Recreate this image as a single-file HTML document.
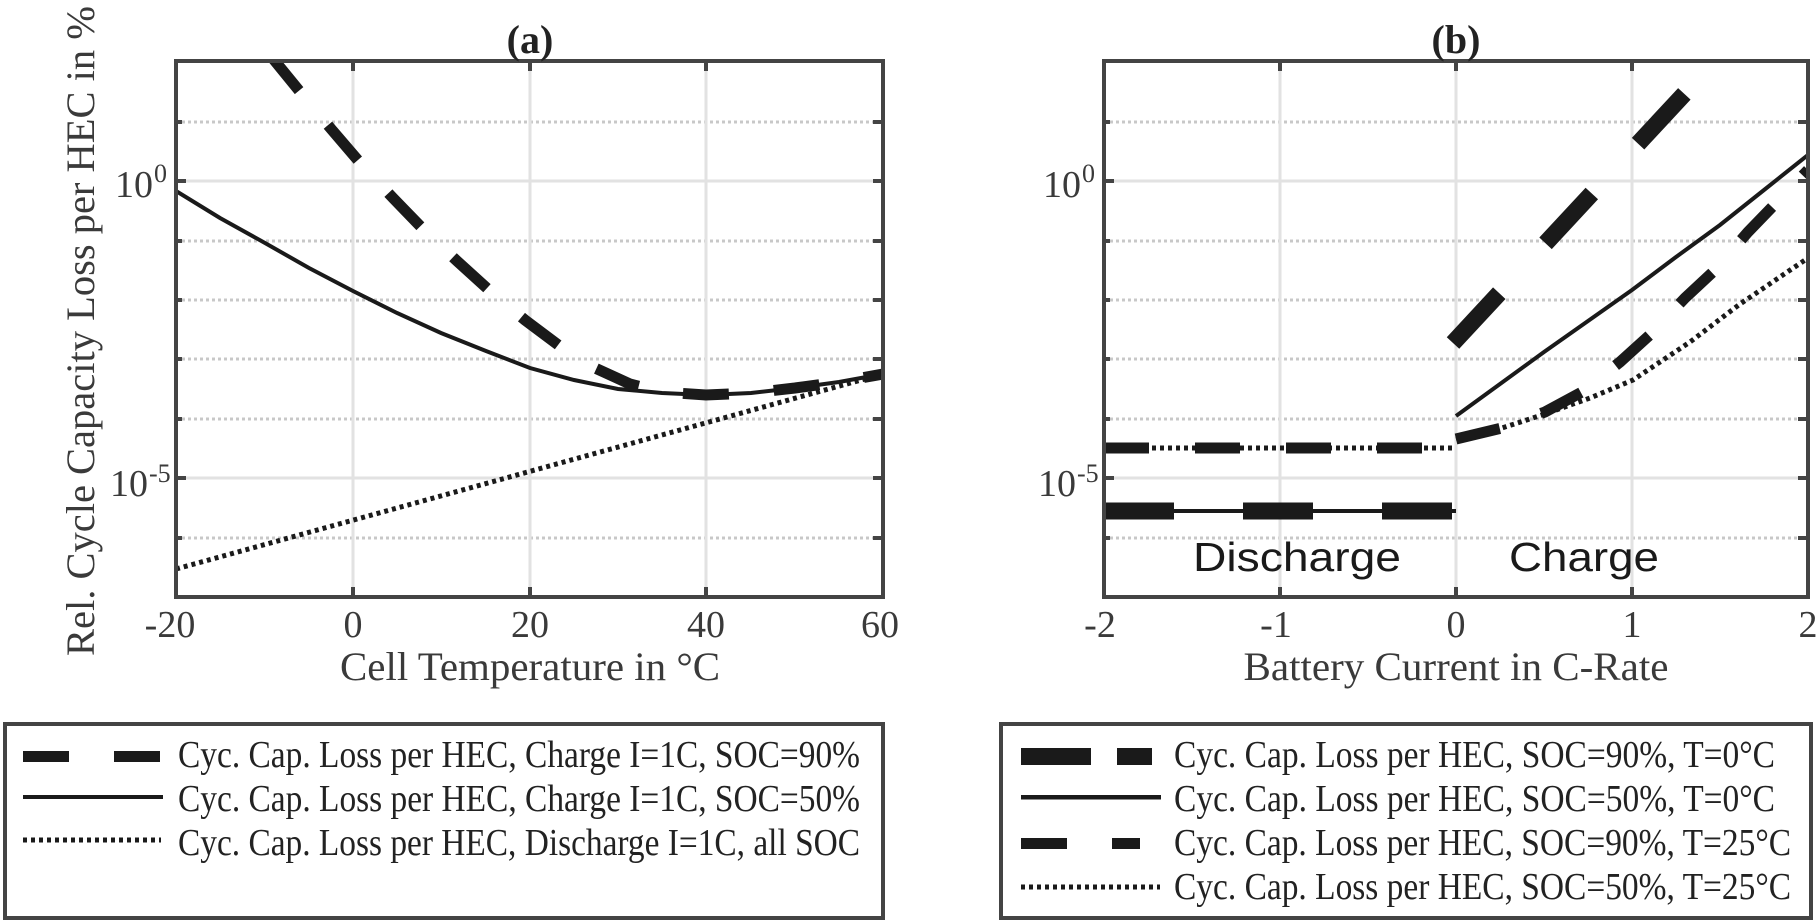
<!DOCTYPE html>
<html><head><meta charset="utf-8"><style>
html,body{margin:0;padding:0;background:#fff;}
svg{display:block;}
text{font-family:"Liberation Serif",serif;}
</style></head><body>
<svg width="1820" height="923" viewBox="0 0 1820 923" xmlns="http://www.w3.org/2000/svg">
<defs>
<clipPath id="ca"><rect x="176" y="61" width="707" height="536"/></clipPath>
<clipPath id="cb"><rect x="1104" y="61" width="704" height="536"/></clipPath>
</defs>
<rect width="1820" height="923" fill="#fff"/>

<!-- ===== Axes (a) ===== -->
<g stroke="#c8c8c8" stroke-width="3" stroke-dasharray="3 3">
<line x1="176" x2="883" y1="122" y2="122"/><line x1="176" x2="883" y1="241" y2="241"/>
<line x1="176" x2="883" y1="300" y2="300"/><line x1="176" x2="883" y1="359" y2="359"/>
<line x1="176" x2="883" y1="419" y2="419"/><line x1="176" x2="883" y1="538" y2="538"/>
</g>
<g stroke="#e2e2e2" stroke-width="3">
<line x1="176" x2="883" y1="181" y2="181"/><line x1="176" x2="883" y1="478" y2="478"/>
<line x1="353" x2="353" y1="61" y2="597"/><line x1="530" x2="530" y1="61" y2="597"/><line x1="706" x2="706" y1="61" y2="597"/>
</g>
<g clip-path="url(#ca)" fill="none" stroke="#1a1a1a">
<polyline stroke-width="5" stroke-dasharray="4 4" points="176,569 883,374"/>
<polyline stroke-width="4" points="176,191 220,218 265,243 309,268 353,291 397,313 441,333 486,351 530,368 574,380 618,389 662,393 706,395 751,393 795,388 839,382 883,374"/>
<polyline stroke-width="11" stroke-dasharray="46 45" points="270,55 301,93 332,130 362,165 393,198 424,230 457,261 490,291 525,320 561,347 595,368 630,384 662,392 706,395 751,393 795,388 839,382 883,374"/>
</g>
<g stroke="#444" stroke-width="4">
<line x1="353" x2="353" y1="61" y2="71"/><line x1="530" x2="530" y1="61" y2="71"/><line x1="706" x2="706" y1="61" y2="71"/>
<line x1="353" x2="353" y1="597" y2="587"/><line x1="530" x2="530" y1="597" y2="587"/><line x1="706" x2="706" y1="597" y2="587"/>
<line x1="176" x2="186" y1="181" y2="181"/><line x1="176" x2="186" y1="478" y2="478"/>
<line x1="883" x2="873" y1="181" y2="181"/><line x1="883" x2="873" y1="478" y2="478"/>
<line x1="883" x2="873" y1="122" y2="122"/><line x1="883" x2="873" y1="241" y2="241"/><line x1="883" x2="873" y1="300" y2="300"/><line x1="883" x2="873" y1="359" y2="359"/><line x1="883" x2="873" y1="419" y2="419"/><line x1="883" x2="873" y1="538" y2="538"/>
<line x1="176" x2="182" y1="122" y2="122"/><line x1="176" x2="182" y1="241" y2="241"/><line x1="176" x2="182" y1="300" y2="300"/><line x1="176" x2="182" y1="359" y2="359"/><line x1="176" x2="182" y1="419" y2="419"/><line x1="176" x2="182" y1="538" y2="538"/>
</g>
<rect x="176" y="61" width="707" height="536" fill="none" stroke="#444" stroke-width="4"/>
<text x="530" y="53" font-size="40" font-weight="bold" text-anchor="middle" fill="#222">(a)</text>
<g font-size="38" fill="#3a3a3a" text-anchor="middle">
<text x="170" y="637">-20</text><text x="353" y="637">0</text><text x="530" y="637">20</text><text x="706" y="637">40</text><text x="880" y="637">60</text>
</g>
<text x="530" y="680" font-size="40" fill="#3a3a3a" text-anchor="middle" textLength="380" lengthAdjust="spacingAndGlyphs">Cell Temperature in °C</text>
<text transform="translate(94,331) rotate(-90)" font-size="40" fill="#3a3a3a" text-anchor="middle" textLength="650" lengthAdjust="spacingAndGlyphs">Rel. Cycle Capacity Loss per HEC in %</text>
<g fill="#3a3a3a">
<text x="153" y="197" font-size="38" text-anchor="end">10</text><text x="154" y="182" font-size="26">0</text>
<text x="148" y="496" font-size="38" text-anchor="end">10</text><text x="149" y="482" font-size="26">-5</text>
</g>

<!-- ===== Axes (b) ===== -->
<g stroke="#c8c8c8" stroke-width="3" stroke-dasharray="3 3">
<line x1="1104" x2="1808" y1="122" y2="122"/><line x1="1104" x2="1808" y1="241" y2="241"/>
<line x1="1104" x2="1808" y1="300" y2="300"/><line x1="1104" x2="1808" y1="359" y2="359"/>
<line x1="1104" x2="1808" y1="419" y2="419"/><line x1="1104" x2="1808" y1="538" y2="538"/>
</g>
<g stroke="#e2e2e2" stroke-width="3">
<line x1="1104" x2="1808" y1="181" y2="181"/><line x1="1104" x2="1808" y1="478" y2="478"/>
<line x1="1280" x2="1280" y1="61" y2="597"/><line x1="1456" x2="1456" y1="61" y2="597"/><line x1="1632" x2="1632" y1="61" y2="597"/>
</g>
<text x="1297" y="571" font-size="41" fill="#1a1a1a" text-anchor="middle" textLength="208" lengthAdjust="spacingAndGlyphs" style="font-family:'Liberation Sans',sans-serif">Discharge</text>
<text x="1584" y="571" font-size="41" fill="#1a1a1a" text-anchor="middle" textLength="150" lengthAdjust="spacingAndGlyphs" style="font-family:'Liberation Sans',sans-serif">Charge</text>
<g clip-path="url(#cb)" fill="none" stroke="#1a1a1a">
<polyline stroke-width="5" stroke-dasharray="4 4" points="1104,448 1456,448"/>
<polyline stroke-width="5" stroke-dasharray="4 4" points="1456,439 1502,428 1545,414 1590,398 1633,380 1690,342 1740,304 1808,258"/>
<polyline stroke-width="11" stroke-dasharray="45 46" points="1104,448 1456,448"/>
<polyline stroke-width="11" stroke-dasharray="45 44" points="1456,439 1502,428 1545,412 1582,392 1620,362 1652,333 1685,298 1715,270 1748,232 1777,202 1808,170"/>
<polyline stroke-width="4" points="1104,511 1456,511"/>
<polyline stroke-width="4" points="1456,416 1500,384 1544,352 1588,321 1632,290 1676,257 1720,225 1764,190 1808,155"/>
<polyline stroke-width="17" stroke-dasharray="70 69" points="1104,511 1456,511"/>
<polyline stroke-width="17" stroke-dasharray="68 68" points="1453,343 1700,77"/>
</g>
<g stroke="#444" stroke-width="4">
<line x1="1280" x2="1280" y1="61" y2="71"/><line x1="1456" x2="1456" y1="61" y2="71"/><line x1="1632" x2="1632" y1="61" y2="71"/>
<line x1="1280" x2="1280" y1="597" y2="587"/><line x1="1456" x2="1456" y1="597" y2="587"/><line x1="1632" x2="1632" y1="597" y2="587"/>
<line x1="1104" x2="1114" y1="181" y2="181"/><line x1="1104" x2="1114" y1="478" y2="478"/>
<line x1="1808" x2="1798" y1="181" y2="181"/><line x1="1808" x2="1798" y1="478" y2="478"/>
<line x1="1808" x2="1798" y1="122" y2="122"/><line x1="1808" x2="1798" y1="241" y2="241"/><line x1="1808" x2="1798" y1="300" y2="300"/><line x1="1808" x2="1798" y1="359" y2="359"/><line x1="1808" x2="1798" y1="419" y2="419"/><line x1="1808" x2="1798" y1="538" y2="538"/>
<line x1="1104" x2="1110" y1="122" y2="122"/><line x1="1104" x2="1110" y1="241" y2="241"/><line x1="1104" x2="1110" y1="300" y2="300"/><line x1="1104" x2="1110" y1="359" y2="359"/><line x1="1104" x2="1110" y1="419" y2="419"/><line x1="1104" x2="1110" y1="538" y2="538"/>
</g>
<rect x="1104" y="61" width="704" height="536" fill="none" stroke="#444" stroke-width="4"/>
<text x="1456" y="53" font-size="40" font-weight="bold" text-anchor="middle" fill="#222">(b)</text>
<g font-size="38" fill="#3a3a3a" text-anchor="middle">
<text x="1100" y="637">-2</text><text x="1276" y="637">-1</text><text x="1456" y="637">0</text><text x="1632" y="637">1</text><text x="1808" y="637">2</text>
</g>
<text x="1456" y="680" font-size="40" fill="#3a3a3a" text-anchor="middle" textLength="425" lengthAdjust="spacingAndGlyphs">Battery Current in C-Rate</text>
<g fill="#3a3a3a">
<text x="1081" y="197" font-size="38" text-anchor="end">10</text><text x="1082" y="182" font-size="26">0</text>
<text x="1076" y="496" font-size="38" text-anchor="end">10</text><text x="1077" y="482" font-size="26">-5</text>
</g>

<!-- ===== Legend (a) ===== -->
<rect x="5" y="724" width="878" height="194" fill="#fff" stroke="#444" stroke-width="4"/>
<g fill="#1a1a1a">
<rect x="23" y="751" width="46" height="11"/><rect x="114" y="751" width="46" height="11"/>
<rect x="23" y="795" width="140" height="4"/>
</g>
<line x1="23" x2="161" y1="840" y2="840" stroke="#1a1a1a" stroke-width="5" stroke-dasharray="4 4"/>
<g font-size="38" fill="#222">
<text x="178" y="767" textLength="682" lengthAdjust="spacingAndGlyphs">Cyc. Cap. Loss per HEC, Charge I=1C, SOC=90%</text>
<text x="178" y="811" textLength="682" lengthAdjust="spacingAndGlyphs">Cyc. Cap. Loss per HEC, Charge I=1C, SOC=50%</text>
<text x="178" y="855" textLength="682" lengthAdjust="spacingAndGlyphs">Cyc. Cap. Loss per HEC, Discharge I=1C, all SOC</text>
</g>

<!-- ===== Legend (b) ===== -->
<rect x="1001" y="724" width="810" height="194" fill="#fff" stroke="#444" stroke-width="4"/>
<g fill="#1a1a1a">
<rect x="1021" y="748" width="70" height="17"/><rect x="1117" y="748" width="35" height="17"/>
<rect x="1021" y="795" width="140" height="4.5"/>
<rect x="1021" y="838" width="46" height="11"/><rect x="1112" y="838" width="28" height="11"/>
</g>
<line x1="1021" x2="1160" y1="887" y2="887" stroke="#1a1a1a" stroke-width="5" stroke-dasharray="4 4"/>
<g font-size="38" fill="#222">
<text x="1174" y="767" textLength="601" lengthAdjust="spacingAndGlyphs">Cyc. Cap. Loss per HEC, SOC=90%, T=0°C</text>
<text x="1174" y="811" textLength="601" lengthAdjust="spacingAndGlyphs">Cyc. Cap. Loss per HEC, SOC=50%, T=0°C</text>
<text x="1174" y="855" textLength="617" lengthAdjust="spacingAndGlyphs">Cyc. Cap. Loss per HEC, SOC=90%, T=25°C</text>
<text x="1174" y="899" textLength="617" lengthAdjust="spacingAndGlyphs">Cyc. Cap. Loss per HEC, SOC=50%, T=25°C</text>
</g>
</svg>
</body></html>
